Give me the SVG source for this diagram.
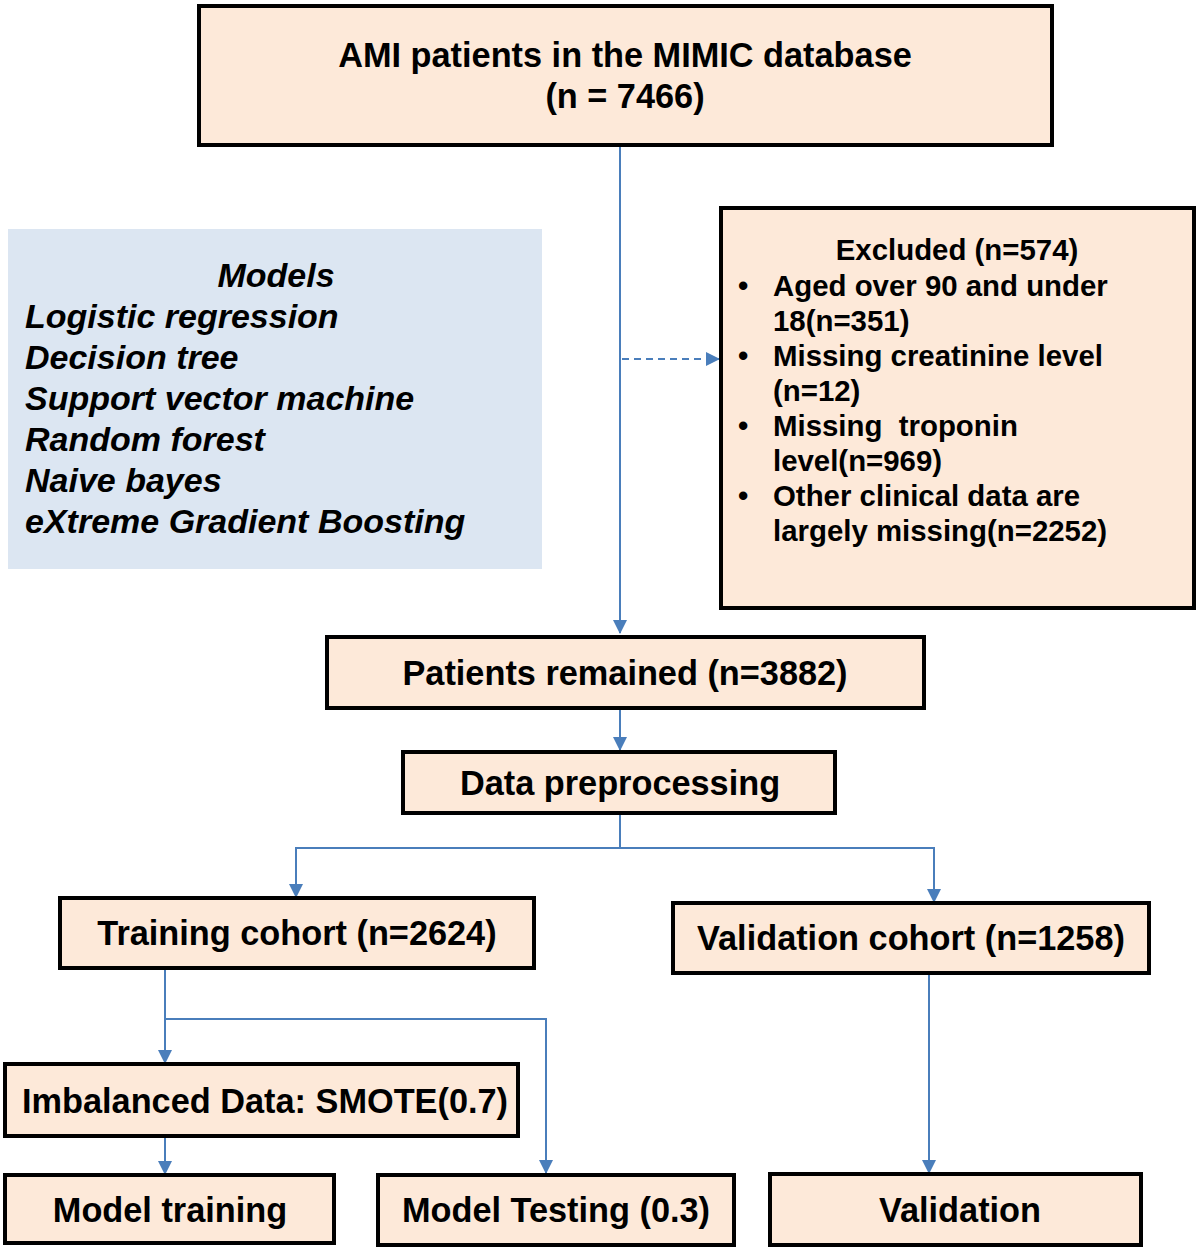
<svg xmlns="http://www.w3.org/2000/svg" width="1200" height="1251" viewBox="0 0 1200 1251">
<style>
.box{fill:#fde9d9;stroke:#000;stroke-width:4}
.t{font-family:"Liberation Sans",Arial,sans-serif;font-weight:bold;fill:#000;font-size:34.3px}
.c{text-anchor:middle}
.m{font-family:"Liberation Sans",Arial,sans-serif;font-weight:bold;font-style:italic;font-size:34px;fill:#000}
.ln{fill:none;stroke:#4a7ebb;stroke-width:2}
</style>
<defs>
<marker id="ah" markerWidth="14" markerHeight="14" refX="13" refY="7" orient="auto" markerUnits="userSpaceOnUse">
<path d="M0,0 L14,7 L0,14 Z" fill="#4a7ebb"/>
</marker>
</defs>
<rect width="1200" height="1251" fill="#fff"/>
<g id="connectors">
<path class="ln" d="M620,145 V633" marker-end="url(#ah)"/>
<path class="ln" d="M622,359 H719" stroke-dasharray="7,5" marker-end="url(#ah)"/>
<path class="ln" d="M620,708 V750" marker-end="url(#ah)"/>
<path class="ln" d="M620,813 V848 H296 V897" marker-end="url(#ah)"/>
<path class="ln" d="M620,848 H934 V902" marker-end="url(#ah)"/>
<path class="ln" d="M165,968 V1063" marker-end="url(#ah)"/>
<path class="ln" d="M165,1019 H546 V1173" marker-end="url(#ah)"/>
<path class="ln" d="M165,1136 V1174" marker-end="url(#ah)"/>
<path class="ln" d="M929,973 V1173" marker-end="url(#ah)"/>
</g>
<g id="top">
<rect class="box" x="199" y="6" width="853" height="139"/>
<text class="t c" x="625" y="67">AMI patients in the MIMIC database</text>
<text class="t c" x="625" y="108">(n = 7466)</text>
</g>
<g id="models">
<rect x="8" y="229" width="534" height="340" fill="#dce6f2"/>
<text class="m c" x="276" y="287">Models</text>
<text class="m" x="25" y="328">Logistic regression</text>
<text class="m" x="25" y="369">Decision tree</text>
<text class="m" x="25" y="410">Support vector machine</text>
<text class="m" x="25" y="451">Random forest</text>
<text class="m" x="25" y="492">Naive bayes</text>
<text class="m" x="25" y="533">eXtreme Gradient Boosting</text>
</g>
<g id="excluded">
<rect class="box" x="721" y="208" width="473" height="400"/>
<g class="t" style="font-size:29.4px">
<text class="c" x="957" y="260">Excluded (n=574)</text>
<text x="738" y="296">•</text>
<text x="773" y="296">Aged over 90 and under</text>
<text x="773" y="331">18(n=351)</text>
<text x="738" y="366">•</text>
<text x="773" y="366">Missing creatinine level</text>
<text x="773" y="401">(n=12)</text>
<text x="738" y="436">•</text>
<text x="773" y="436" xml:space="preserve">Missing  troponin</text>
<text x="773" y="471">level(n=969)</text>
<text x="738" y="506">•</text>
<text x="773" y="506">Other clinical data are</text>
<text x="773" y="541">largely missing(n=2252)</text>
</g>
</g>
<g id="remained">
<rect class="box" x="327" y="637" width="597" height="71"/>
<text class="t c" x="625" y="685">Patients remained (n=3882)</text>
</g>
<g id="preprocessing">
<rect class="box" x="403" y="752" width="432" height="61"/>
<text class="t c" x="620" y="795">Data preprocessing</text>
</g>
<g id="training">
<rect class="box" x="60" y="898" width="474" height="70"/>
<text class="t c" x="297" y="945">Training cohort (n=2624)</text>
</g>
<g id="validation-cohort">
<rect class="box" x="673" y="903" width="476" height="70"/>
<text class="t c" x="911" y="950">Validation cohort (n=1258)</text>
</g>
<g id="smote">
<rect class="box" x="5" y="1064" width="513" height="72"/>
<text class="t c" x="265" y="1113">Imbalanced Data: SMOTE(0.7)</text>
</g>
<g id="model-training">
<rect class="box" x="5" y="1175" width="329" height="68"/>
<text class="t c" x="170" y="1222">Model training</text>
</g>
<g id="model-testing">
<rect class="box" x="378" y="1175" width="356" height="70"/>
<text class="t c" x="556" y="1222">Model Testing (0.3)</text>
</g>
<g id="validation">
<rect class="box" x="770" y="1174" width="371" height="71"/>
<text class="t c" x="960" y="1222">Validation</text>
</g>
</svg>
